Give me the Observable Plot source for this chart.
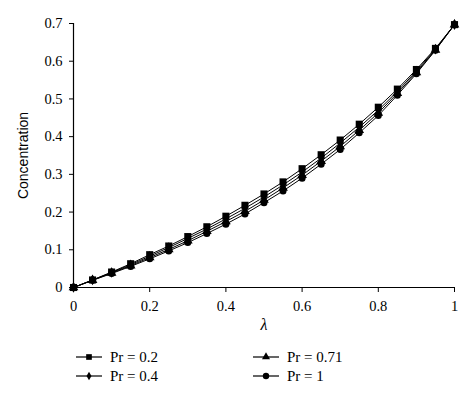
<!DOCTYPE html>
<html>
<head>
<meta charset="utf-8">
<script src="https://cdn.jsdelivr.net/npm/d3@7"></script>
<script src="https://cdn.jsdelivr.net/npm/@observablehq/plot@0.6"></script>
<style>
  body { margin: 0; background: #fff; }
  #wrap { position: relative; width: 474px; height: 398px; background: #fff; }
  #chart svg { font-family: "Liberation Serif", serif; }
  #legend { position: absolute; left: 0; top: 340px; width: 474px; height: 58px; font-family: "Liberation Serif", serif; font-size: 15px; color: #000; }
  .item { position: absolute; display: flex; align-items: center; height: 18px; }
  .item svg { display: block; margin-right: 7px; }
</style>
</head>
<body>
<div id="wrap"><div id="chart"></div><div id="legend"></div></div>
<script>
const lambda = [0, 0.05, 0.1, 0.15, 0.2, 0.25, 0.3, 0.35, 0.4, 0.45, 0.5, 0.55, 0.6, 0.65, 0.7, 0.75, 0.8, 0.85, 0.9, 0.95, 1];
const pr02  = [0, 0.0200, 0.0410, 0.0630, 0.0870, 0.110, 0.135, 0.161, 0.189, 0.218, 0.248, 0.280, 0.315, 0.352, 0.391, 0.433, 0.478, 0.526, 0.578, 0.634, 0.697];
const pr04  = [0, 0.0197, 0.0397, 0.0605, 0.0830, 0.106, 0.130, 0.155, 0.182, 0.210, 0.240, 0.272, 0.306, 0.343, 0.383, 0.425, 0.470, 0.520, 0.574, 0.632, 0.697];
const pr071 = [0, 0.0193, 0.0385, 0.0580, 0.0795, 0.101, 0.124, 0.149, 0.175, 0.202, 0.232, 0.264, 0.298, 0.335, 0.374, 0.417, 0.463, 0.515, 0.570, 0.630, 0.697];
const pr1   = [0, 0.0190, 0.0370, 0.0560, 0.0760, 0.097, 0.119, 0.143, 0.168, 0.195, 0.225, 0.256, 0.290, 0.327, 0.366, 0.410, 0.456, 0.510, 0.567, 0.629, 0.697];
const seriesNames = ["Pr = 0.2", "Pr = 0.4", "Pr = 0.71", "Pr = 1"];
const seriesValues = [pr02, pr04, pr071, pr1];
const seriesSymbols = ["square", "diamond", "triangle", "circle"];
const seriesSizes = [4, 3.2, 3.6, 3.5];
const legendSizes = [3.2, 2.6, 3, 3.2];
const xTicks = [0, 0.2, 0.4, 0.6, 0.8, 1];
const yTicks = [0, 0.1, 0.2, 0.3, 0.4, 0.5, 0.6, 0.7];

const data = [];
seriesNames.forEach((name, i) => {
  lambda.forEach((x, j) => data.push({series: name, x, y: seriesValues[i][j], r: seriesSizes[i]}));
});

const serif = "'Liberation Serif', serif";
const fmt = d => String(d);

const chart = Plot.plot({
  width: 474,
  height: 340,
  marginTop: 23,
  marginBottom: 53,
  marginLeft: 73,
  marginRight: 20,
  style: "font-family: 'Liberation Serif', serif; font-size: 14px; color: #000; background: #fff;",
  x: {domain: [0, 1]},
  y: {domain: [0, 0.7]},
  symbol: {domain: seriesNames, range: seriesSymbols},
  r: {type: "identity"},
  marks: [
    Plot.axisX({ticks: xTicks, tickFormat: fmt, tickSize: 5, tickPadding: 8, label: null, fontSize: 14.5, fontFamily: serif}),
    Plot.axisY({ticks: yTicks, tickFormat: fmt, tickSize: 4, tickPadding: 7, label: null, fontSize: 14.5, fontFamily: serif}),
    Plot.ruleY([0], {stroke: "#000", strokeWidth: 1.2}),
    Plot.ruleX([0], {stroke: "#000", strokeWidth: 1.2}),
    Plot.line(data, {x: "x", y: "y", z: "series", stroke: "#000", strokeWidth: 1}),
    Plot.dot(data, {x: "x", y: "y", symbol: "series", r: "r", fill: "#000", stroke: "none"}),
    Plot.text(["λ"], {frameAnchor: "bottom", dy: 42, fontStyle: "italic", fontSize: 16, fontFamily: serif}),
    Plot.text(["Concentration"], {frameAnchor: "left", textAnchor: "middle", dx: -50, rotate: -90, fontSize: 14, fontFamily: "'Liberation Sans', Arial, sans-serif"})
  ]
});
document.getElementById("chart").appendChild(chart);

// Legend
const legend = document.getElementById("legend");
const pos = [[76, 8], [76, 27], [253, 8], [253, 27]];
seriesNames.forEach((name, i) => {
  const div = document.createElement("div");
  div.className = "item";
  div.style.left = pos[i][0] + "px";
  div.style.top = pos[i][1] + "px";
  const sym = d3.symbol(d3["symbol" + seriesSymbols[i][0].toUpperCase() + seriesSymbols[i].slice(1)], Math.PI * legendSizes[i] * legendSizes[i])();
  div.innerHTML = `<svg width="27" height="18"><line x1="0" x2="26" y1="9" y2="9" stroke="#000" stroke-width="1.2"/><path d="${sym}" transform="translate(13,9)" fill="#000"/></svg><span>${name}</span>`;
  legend.appendChild(div);
});
</script>
</body>
</html>
